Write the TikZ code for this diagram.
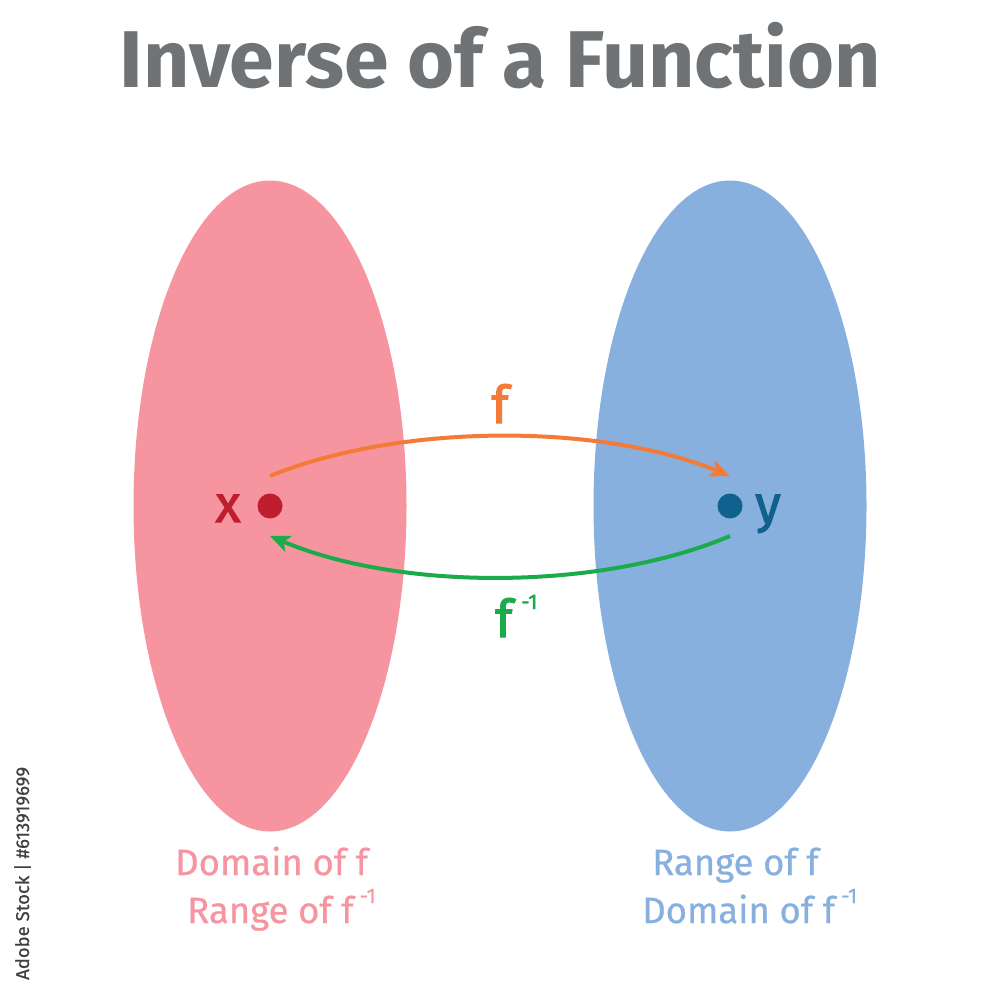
\documentclass[tikz,border=0pt]{standalone}
\usepackage{fontspec}
\setmainfont{Fira Sans}
\usetikzlibrary{arrows.meta,shapes.geometric}
\definecolor{pinkc}{HTML}{F6959F}
\definecolor{bluec}{HTML}{88B0DF}
\definecolor{titlec}{HTML}{6F7375}
\definecolor{redc}{HTML}{BE1E2D}
\definecolor{navyc}{HTML}{11618F}
\definecolor{orangec}{HTML}{F47B36}
\definecolor{greenc}{HTML}{1CAB4B}
\newcommand{\supone}[1]{\raisebox{#1}{\fontsize{21}{23}\selectfont -1}}
\tikzset{
 px/.style={x=1pt,y=-1pt},
 lbl/.style={inner sep=0pt,anchor=base west,font=\fontsize{36.5}{40}\selectfont\addfontfeature{FakeBold=0.6}},
 sym/.style={inner sep=0pt,anchor=base,font=\fontsize{52}{56}\selectfont\addfontfeature{FakeBold=2}},
 dotn/.style={circle,inner sep=0pt,minimum size=25pt},
 blob/.style={ellipse,inner sep=0pt,minimum width=273pt,minimum height=651pt},
 arc/.style={line width=4pt,-{Stealth[length=20pt,width=17pt,inset=5pt]}},
}
\begin{document}
\begin{tikzpicture}[px]
\useasboundingbox (0,0) rectangle (1000,1000);
\fill[white] (0,0) rectangle (1000,1000);
\node[inner sep=0pt,anchor=base,text=titlec,font=\bfseries\fontsize{80.5}{86}\selectfont] (title) at (500,88) {Inverse of a Function};
\node[blob,fill=pinkc] (dom) at (270,506) {};
\node[blob,fill=bluec] (ran) at (730,506) {};
\node[dotn,fill=redc] (x) at (270,506) {};
\node[dotn,fill=navyc] (y) at (730,506) {};
\node[sym,text=redc] (xl) at (228,522) {x};
\node[sym,text=navyc] (yl) at (768,522) {y};
\coordinate (a1) at (270,476);
\coordinate (a2) at (730,476);
\coordinate (b1) at (730,536);
\coordinate (b2) at (270,536);
\draw[arc,orangec] (a1) .. controls (400,423) and (600,423) .. (a2);
\draw[arc,greenc] (b1) .. controls (600,591) and (400,591) .. (b2);
\node[sym,text=orangec] (f) at (500,423) {f};
\node[sym,anchor=base west,text=greenc] (finv) at (495,637) {f\,\supone{28pt}};
\node[lbl,text=pinkc] (d1) at (175,875) {Domain of f};
\node[lbl,text=pinkc] (d2) at (187,923) {Range of f\,\supone{20pt}};
\node[lbl,text=bluec] (r1) at (652,875) {Range of f};
\node[lbl,text=bluec] (r2) at (642,923) {Domain of f\,\supone{20pt}};
\node[inner sep=0pt,rotate=90,anchor=base west,text=black!75,font=\fontsize{18.5}{22}\selectfont\addfontfeature{FakeBold=0.6}] (stock) at (29,980) {Adobe Stock | \#613919699};
\end{tikzpicture}
\end{document}
